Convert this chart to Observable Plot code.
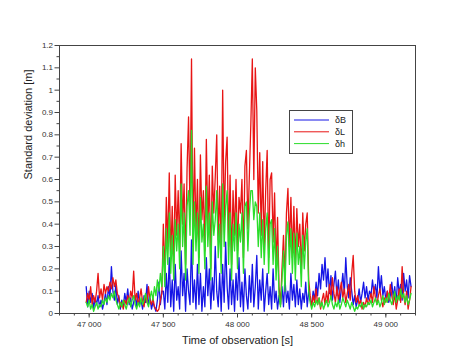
<!DOCTYPE html>
<html>
<head>
<meta charset="utf-8">
<script src="https://cdn.jsdelivr.net/npm/d3@7"></script>
<script src="https://cdn.jsdelivr.net/npm/@observablehq/plot@0.6"></script>
<style>
  html, body { margin: 0; padding: 0; background: #fff; }
  #wrap { position: relative; width: 474px; height: 358px; }
  #legend { position: absolute; left: 289px; top: 110px; }
</style>
</head>
<body>
<div id="wrap"></div>
<script>
// Sampling of the series (seconds)
const t0 = 46980;
const dt = 10;

const seriesNames = ["δB", "δL", "δh"];
const seriesColors = ["#1515e6", "#e81515", "#2add2a"];

// δB — standard deviation of latitude [m]
const dB = [
  0.12,0.03,0.10,0.05,0.09,0.02,0.07,0.04,0.08,0.03,
  0.06,0.02,0.05,0.09,0.04,0.12,0.07,0.21,0.10,0.06,
  0.13,0.04,0.08,0.02,0.06,0.03,0.09,0.05,0.11,0.04,
  0.07,0.02,0.05,0.08,0.03,0.10,0.04,0.06,0.02,0.08,
  0.05,0.13,0.04,0.07,0.02,0.05,0.03,0.01,0.06,0.14,
  0.04,0.10,
  0.10,0.02,0.18,0.05,0.25,0.03,0.15,0.01,0.22,0.06,
  0.12,0.02,0.28,0.08,0.18,0.01,0.20,0.10,0.04,0.33,
  0.05,0.15,0.02,0.22,0.04,0.18,0.01,0.12,0.03,0.25,
  0.08,0.20,0.02,0.16,0.06,0.30,0.10,0.03,0.18,0.01,
  0.22,0.05,0.32,0.12,0.02,0.20,0.04,0.15,0.01,0.18,
  0.06,0.25,0.03,0.14,0.01,0.20,0.08,0.02,0.17,0.05,
  0.22,0.03,0.12,0.26,0.02,0.15,0.06,0.20,0.01,0.10,
  0.18,0.04,0.12,0.02,0.20,0.05,0.10,0.02,0.08,0.04,
  0.12,0.03,0.16,0.05,0.10,0.02,0.18,0.06,0.13,0.03,
  0.15,0.04,0.11,0.02,0.09,0.05,0.14,0.03,0.10,0.06,
  0.04,0.10,0.06,0.14,0.08,0.18,0.11,0.22,0.15,0.25,
  0.12,0.20,0.09,0.17,0.06,0.13,0.19,0.08,0.15,0.05,
  0.11,0.18,0.09,0.25,0.12,0.07,0.16,0.10,0.04,0.08,
  0.03,0.06,0.11,0.05,0.09,0.14,0.07,0.12,0.06,0.10,
  0.08,0.15,0.09,0.13,0.07,0.21,0.10,0.17,0.08,0.12,
  0.06,0.10,0.05,0.08,0.14,0.07,0.12,0.05,0.16,0.09,
  0.13,0.06,0.18,0.10,0.15,0.07,0.17,0.12
];

// δL — standard deviation of longitude [m]
const dL = [
  0.05,0.09,0.06,0.12,0.04,0.08,0.05,0.10,0.18,0.07,
  0.11,0.06,0.13,0.09,0.12,0.10,0.14,0.11,0.16,0.12,
  0.15,0.09,0.07,0.03,0.05,0.02,0.06,0.04,0.08,0.05,
  0.10,0.07,0.19,0.06,0.09,0.04,0.07,0.11,0.05,0.03,
  0.08,0.05,0.12,0.06,0.04,0.07,0.03,0.02,0.01,0.02,
  0.06,0.09,
  0.40,0.15,0.52,0.30,0.63,0.25,0.48,0.20,0.62,0.35,
  0.55,0.28,0.76,0.40,0.58,0.22,0.65,0.88,0.45,1.14,
  0.30,0.74,0.35,0.60,0.25,0.71,0.42,0.55,0.28,0.78,
  0.38,0.62,0.20,0.66,0.45,0.61,0.80,0.33,0.57,0.25,
  1.00,0.40,0.68,0.79,0.30,0.62,0.22,0.55,0.35,0.60,
  0.28,0.52,0.45,0.60,0.25,0.66,0.73,0.38,0.62,0.85,
  1.14,0.60,1.10,0.91,0.45,0.72,0.35,0.68,0.30,0.55,
  0.73,0.25,0.60,0.63,0.32,0.54,0.20,0.43,0.12,0.04,
  0.20,0.35,0.15,0.45,0.56,0.30,0.52,0.25,0.48,0.22,
  0.47,0.30,0.40,0.18,0.45,0.28,0.40,0.45,0.15,0.08,
  0.03,0.08,0.05,0.11,0.04,0.07,0.02,0.06,0.09,0.04,
  0.10,0.05,0.13,0.07,0.16,0.09,0.05,0.12,0.06,0.10,
  0.14,0.07,0.11,0.05,0.09,0.13,0.06,0.18,0.26,0.10,
  0.05,0.08,0.04,0.06,0.02,0.05,0.03,0.07,0.04,0.06,
  0.09,0.05,0.12,0.07,0.04,0.08,0.11,0.06,0.03,0.07,
  0.05,0.10,0.06,0.13,0.08,0.04,0.09,0.02,0.06,0.11,
  0.05,0.21,0.08,0.04,0.10,0.02,0.06,0.12
];

// δh — standard deviation of height [m]
const dh = [
  0.05,0.03,0.06,0.02,0.04,0.01,0.03,0.05,0.02,0.04,
  0.03,0.06,0.04,0.07,0.05,0.08,0.06,0.09,0.07,0.10,
  0.06,0.04,0.02,0.05,0.03,0.06,0.04,0.02,0.05,0.07,
  0.03,0.06,0.08,0.04,0.02,0.05,0.03,0.07,0.04,0.06,
  0.09,0.05,0.03,0.07,0.10,0.06,0.12,0.08,0.15,0.10,
  0.18,0.12,
  0.30,0.12,0.38,0.22,0.45,0.18,0.35,0.15,0.42,0.28,
  0.40,0.20,0.58,0.30,0.45,0.15,0.48,0.55,0.35,0.82,
  0.22,0.50,0.28,0.45,0.18,0.52,0.32,0.40,0.20,0.57,
  0.30,0.45,0.15,0.50,0.35,0.42,0.55,0.25,0.40,0.18,
  0.58,0.30,0.48,0.55,0.22,0.45,0.15,0.40,0.28,0.45,
  0.20,0.40,0.32,0.45,0.18,0.48,0.50,0.28,0.45,0.55,
  0.55,0.42,0.50,0.48,0.30,0.45,0.25,0.42,0.22,0.38,
  0.45,0.18,0.40,0.42,0.22,0.38,0.15,0.30,0.08,0.03,
  0.15,0.28,0.10,0.35,0.41,0.22,0.38,0.18,0.36,0.15,
  0.36,0.22,0.30,0.12,0.35,0.20,0.32,0.38,0.10,0.05,
  0.02,0.05,0.03,0.06,0.04,0.07,0.03,0.05,0.02,0.04,
  0.06,0.03,0.05,0.08,0.04,0.02,0.05,0.03,0.06,0.02,
  0.04,0.07,0.05,0.03,0.06,0.04,0.02,0.05,0.03,0.01,
  0.03,0.02,0.04,0.03,0.05,0.02,0.04,0.03,0.05,0.04,
  0.06,0.03,0.05,0.07,0.04,0.06,0.03,0.05,0.08,0.04,
  0.07,0.05,0.09,0.06,0.04,0.07,0.10,0.05,0.08,0.06,
  0.11,0.07,0.09,0.05,0.08,0.04,0.06,0.09
];

// Axis ticks
const xMajorTicks = [47000, 47500, 48000, 48500, 49000];
const xMinorTicks = [46800,46900,47000,47100,47200,47300,47400,47500,47600,47700,47800,47900,48000,48100,48200,48300,48400,48500,48600,48700,48800,48900,49000,49100,49200];
const yMajorTicks = [0,0.1,0.2,0.3,0.4,0.5,0.6,0.7,0.8,0.9,1,1.1,1.2];
const yMinorTicks = [0.05,0.15,0.25,0.35,0.45,0.55,0.65,0.75,0.85,0.95,1.05,1.15];

const xLabel = "Time of observation [s]";
const yLabel = "Standard deviation [m]";

const allValues = [dB, dL, dh];
const toRows = (vals) => vals.map((v, i) => ({t: t0 + i * dt, v}));

const fmtX = d => {
  const s = String(d);
  return s.slice(0, s.length - 3) + " " + s.slice(-3);
};
const fmtY = d => String(Math.round(d * 10) / 10);

const chart = Plot.plot({
  width: 474,
  height: 358,
  marginLeft: 59,
  marginRight: 59,
  marginTop: 45,
  marginBottom: 45,
  style: {fontFamily: "'Liberation Sans', Arial, sans-serif", fontSize: "8px", color: "#333", background: "#fff"},
  x: {domain: [46800, 49200]},
  y: {domain: [0, 1.2]},
  marks: [
    ...allValues.map((vals, k) => Plot.line(toRows(vals), {x: "t", y: "v", stroke: seriesColors[k], strokeWidth: 1.3})),
    Plot.axisX(xMinorTicks, {tickSize: 2.5, tickFormat: () => "", label: null, stroke: "#444"}),
    Plot.axisX(xMajorTicks, {tickSize: 4.5, tickPadding: 3, tickFormat: fmtX, label: null, stroke: "#444", fontSize: 8}),
    Plot.axisY(yMinorTicks, {tickSize: 2.5, tickFormat: () => "", label: null, stroke: "#444"}),
    Plot.axisY(yMajorTicks, {tickSize: 4.5, tickPadding: 2, tickFormat: fmtY, label: null, stroke: "#444", fontSize: 8}),
    Plot.frame({stroke: "#444"}),
    Plot.text([yLabel], {frameAnchor: "left", dx: -31, rotate: -90, fontSize: 11, fill: "#222"}),
    Plot.text([xLabel], {frameAnchor: "bottom", dy: 30, fontSize: 11, fill: "#222"})
  ]
});

const wrap = document.getElementById("wrap");
wrap.appendChild(chart);

// Legend inside the plot area
const lg = d3.create("svg")
  .attr("id", "legend")
  .attr("width", 65)
  .attr("height", 45)
  .style("font-family", "'Liberation Sans', Arial, sans-serif")
  .style("font-size", "9px");
lg.append("rect").attr("x", 0.5).attr("y", 0.5).attr("width", 63).attr("height", 43)
  .attr("fill", "#fff").attr("stroke", "#444");
seriesNames.forEach((name, k) => {
  const y = 10 + k * 11.8;
  lg.append("line").attr("x1", 5).attr("x2", 40).attr("y1", y).attr("y2", y)
    .attr("stroke", seriesColors[k]).attr("stroke-width", 1);
  lg.append("text").attr("x", 46).attr("y", y).attr("dy", "0.35em").attr("fill", "#222").text(name);
});
wrap.appendChild(lg.node());
</script>
</body>
</html>
